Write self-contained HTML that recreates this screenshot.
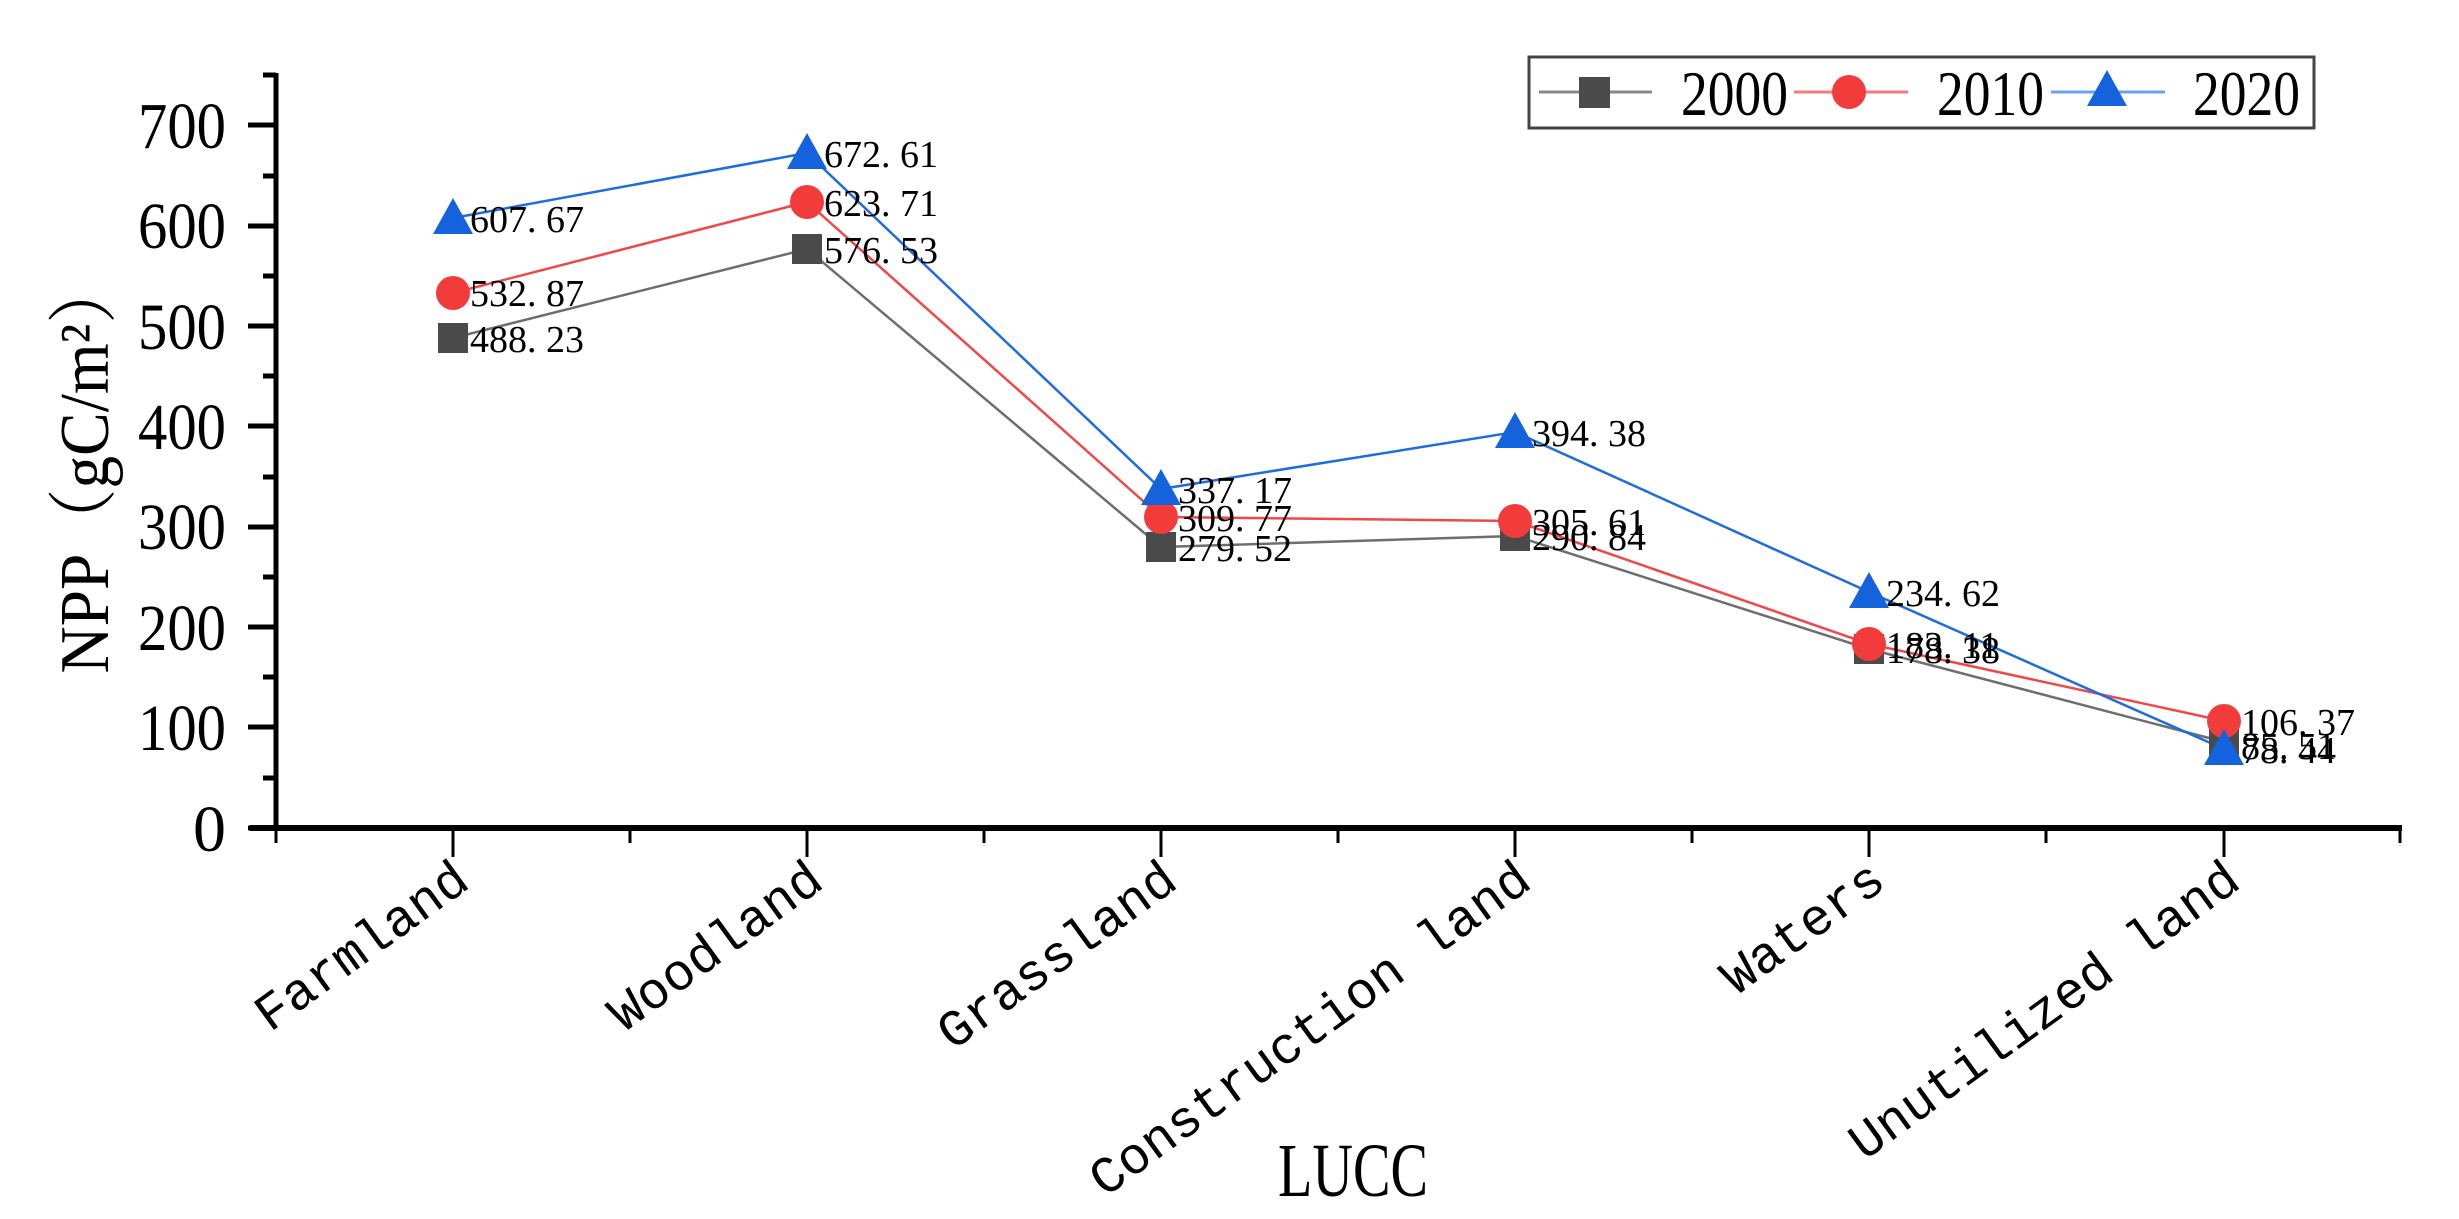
<!DOCTYPE html>
<html><head><meta charset="utf-8"><style>
html,body{margin:0;padding:0;background:#fff;}
svg{display:block;}
text{font-family:"Liberation Serif","Noto Serif CJK SC",serif;fill:#000;}
text.m{font-family:"Liberation Mono",monospace;}
</style></head><body>
<svg width="2459" height="1219" viewBox="0 0 2459 1219" xmlns="http://www.w3.org/2000/svg">
<rect width="2459" height="1219" fill="#fff"/>
<line x1="276" y1="73" x2="276" y2="830" stroke="#000" stroke-width="5"/>
<line x1="250" y1="828" x2="2402" y2="828" stroke="#000" stroke-width="6"/>
<g stroke="#000" stroke-width="5">
<line x1="248" y1="828" x2="276" y2="828"/><line x1="263" y1="778" x2="276" y2="778"/>
<line x1="248" y1="727" x2="276" y2="727"/><line x1="263" y1="677" x2="276" y2="677"/>
<line x1="248" y1="627" x2="276" y2="627"/><line x1="263" y1="577" x2="276" y2="577"/>
<line x1="248" y1="527" x2="276" y2="527"/><line x1="263" y1="477" x2="276" y2="477"/>
<line x1="248" y1="426" x2="276" y2="426"/><line x1="263" y1="376" x2="276" y2="376"/>
<line x1="248" y1="326" x2="276" y2="326"/><line x1="263" y1="276" x2="276" y2="276"/>
<line x1="248" y1="226" x2="276" y2="226"/><line x1="263" y1="176" x2="276" y2="176"/>
<line x1="248" y1="125" x2="276" y2="125"/><line x1="263" y1="75" x2="276" y2="75"/>
</g>
<g stroke="#000" stroke-width="3">
<line x1="453" y1="828" x2="453" y2="857"/><line x1="807" y1="828" x2="807" y2="857"/>
<line x1="1161" y1="828" x2="1161" y2="857"/><line x1="1515" y1="828" x2="1515" y2="857"/>
<line x1="1869" y1="828" x2="1869" y2="857"/><line x1="2224" y1="828" x2="2224" y2="857"/>
<line x1="276" y1="828" x2="276" y2="843"/><line x1="630" y1="828" x2="630" y2="843"/>
<line x1="984" y1="828" x2="984" y2="843"/><line x1="1338" y1="828" x2="1338" y2="843"/>
<line x1="1692" y1="828" x2="1692" y2="843"/><line x1="2046" y1="828" x2="2046" y2="843"/>
<line x1="2400" y1="828" x2="2400" y2="843"/>
</g>
<g font-size="66" text-anchor="end">
<text x="226" y="851">0</text>
<text x="226" y="750" textLength="88" lengthAdjust="spacingAndGlyphs">100</text>
<text x="226" y="650" textLength="88" lengthAdjust="spacingAndGlyphs">200</text>
<text x="226" y="549" textLength="88" lengthAdjust="spacingAndGlyphs">300</text>
<text x="226" y="449" textLength="88" lengthAdjust="spacingAndGlyphs">400</text>
<text x="226" y="349" textLength="88" lengthAdjust="spacingAndGlyphs">500</text>
<text x="226" y="248" textLength="88" lengthAdjust="spacingAndGlyphs">600</text>
<text x="226" y="148" textLength="88" lengthAdjust="spacingAndGlyphs">700</text>
</g>
<text transform="translate(108,466) rotate(-90)" font-size="70" text-anchor="middle" textLength="415" lengthAdjust="spacingAndGlyphs">NPP（gC/m²）</text>
<g font-size="52" text-anchor="end">
<text class="m" transform="translate(472,886) rotate(-36)">Farmland</text>
<text class="m" transform="translate(826,886) rotate(-36)">Woodland</text>
<text class="m" transform="translate(1180,886) rotate(-36)">Grassland</text>
<text class="m" transform="translate(1534,886) rotate(-36)">Construction land</text>
<text class="m" transform="translate(1888,886) rotate(-36)">Waters</text>
<text class="m" transform="translate(2243,886) rotate(-36)">Unutilized land</text>
</g>
<text x="1353" y="1196" font-size="76" text-anchor="middle" textLength="150" lengthAdjust="spacingAndGlyphs">LUCC</text>
<polyline fill="none" stroke="#6e6e6e" stroke-width="2.5" points="453,338 807,249 1161,547 1515,536 1869,649 2224,742"/>
<polyline fill="none" stroke="#f0484a" stroke-width="2.5" points="453,293 807,202 1161,517 1515,521 1869,644 2224,721"/>
<polyline fill="none" stroke="#1f6be0" stroke-width="2.5" points="453,218 807,153 1161,489 1515,432 1869,592 2224,749"/>
<g fill="#4a4a4a">
<rect x="438" y="323" width="30" height="30"/><rect x="792" y="234" width="30" height="30"/>
<rect x="1146" y="532" width="30" height="30"/><rect x="1500" y="521" width="30" height="30"/>
<rect x="1854" y="634" width="30" height="30"/><rect x="2209" y="727" width="30" height="30"/>
</g>
<g fill="#f23b3b">
<circle cx="453" cy="293" r="17"/><circle cx="807" cy="202" r="17"/><circle cx="1161" cy="517" r="17"/>
<circle cx="1515" cy="521" r="17"/><circle cx="1869" cy="644" r="17"/><circle cx="2224" cy="721" r="17"/>
</g>
<g fill="#1463dc">
<polygon points="453,198 433,234 473,234"/><polygon points="807,133 787,169 827,169"/>
<polygon points="1161,469 1141,505 1181,505"/><polygon points="1515,412 1495,448 1535,448"/>
<polygon points="1869,572 1849,608 1889,608"/><polygon points="2224,729 2204,765 2244,765"/>
</g>
<g font-size="38">
<text x="470" y="232">607. 67</text><text x="470" y="306">532. 87</text><text x="470" y="352">488. 23</text>
<text x="824" y="167">672. 61</text><text x="824" y="216">623. 71</text><text x="824" y="263">576. 53</text>
<text x="1178" y="503">337. 17</text><text x="1178" y="531">309. 77</text><text x="1178" y="561">279. 52</text>
<text x="1532" y="446">394. 38</text><text x="1532" y="535">305. 61</text><text x="1532" y="550">290. 84</text>
<text x="1886" y="606">234. 62</text><text x="1886" y="658">183. 11</text><text x="1886" y="663">178. 38</text>
<text x="2241" y="735">106. 37</text><text x="2241" y="759">85. 51</text><text x="2241" y="763">78. 44</text>
</g>
<rect x="1529" y="57" width="785" height="71" fill="#fff" stroke="#444" stroke-width="3"/>
<line x1="1539" y1="92" x2="1652" y2="92" stroke="#888" stroke-width="3"/>
<rect x="1579" y="77" width="31" height="31" fill="#4a4a4a"/>
<text x="1681" y="115" font-size="64" textLength="107" lengthAdjust="spacingAndGlyphs">2000</text>
<line x1="1794" y1="92" x2="1908" y2="92" stroke="#f47a7a" stroke-width="3"/>
<circle cx="1849" cy="92" r="17" fill="#f23b3b"/>
<text x="1937" y="115" font-size="64" textLength="107" lengthAdjust="spacingAndGlyphs">2010</text>
<line x1="2051" y1="92" x2="2165" y2="92" stroke="#6ea0ee" stroke-width="3"/>
<polygon points="2107,70 2087,106 2127,106" fill="#1463dc"/>
<text x="2193" y="115" font-size="64" textLength="107" lengthAdjust="spacingAndGlyphs">2020</text>
</svg>
</body></html>
